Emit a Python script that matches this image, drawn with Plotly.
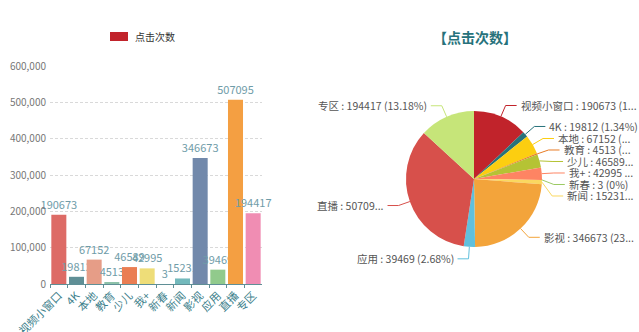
import math
import plotly.graph_objects as go

# ---------------- data ----------------
categories = ["视频小窗口", "4K", "本地", "教育", "少儿", "我+", "新春", "新闻", "影视", "应用", "直播", "专区"]
clicks = [190673, 19812, 67152, 4513, 46589, 42995, 3, 15231, 346673, 39469, 507095, 194417]
series_name = "点击次数"
y_tick_values = [0, 100000, 200000, 300000, 400000, 500000, 600000]

# ---------------- styles ----------------
W, H = 639, 332
FONT = "Microsoft YaHei, Noto Sans CJK SC, sans-serif"
bar_colors = ["#dd6b66", "#5f8f96", "#e69d87", "#8dc1a9", "#ea7e53", "#eedd78",
              "#73a373", "#73b9bc", "#7289ab", "#91ca8c", "#f49f42", "#f08db3"]
pie_colors = ["#C1232B", "#27727B", "#FCCE10", "#E87C25", "#B5C334", "#FE8463",
              "#9BCA63", "#FAD860", "#F3A43B", "#60C0DD", "#D7504B", "#C6E579"]


def px_x(v):
    return v / W


def px_y(v):
    return 1 - v / H


fig = go.Figure()

# ---------------- bar chart ----------------
fig.add_trace(go.Bar(
    x=categories, y=clicks,
    marker=dict(color=bar_colors, line=dict(width=0)),
    text=[str(v) for v in clicks], textposition="outside",
    textfont=dict(family=FONT, size=11, color="#6f9ca8"),
    constraintext="none", cliponaxis=False,
    showlegend=False, xaxis="x", yaxis="y",
))

# ---------------- pie chart ----------------
cx, cy, r = 474, 179, 68
fig.add_trace(go.Pie(
    labels=categories, values=clicks, sort=False, direction="clockwise", rotation=0,
    marker=dict(colors=pie_colors, line=dict(width=0)),
    textinfo="none", showlegend=False, automargin=False,
    domain=dict(x=[px_x(cx - r), px_x(cx + r)], y=[px_y(cy + r), px_y(cy - r)]),
))

# pie labels with leader lines (computed from the data)
total = sum(clicks)
F = 10          # width model
F_DRAW = 10.5   # drawn size
ELLIPSIS_W = 9.2
EM = {"0": .57, "1": .57, "2": .57, "3": .57, "4": .57, "5": .57, "6": .57, "7": .57, "8": .57, "9": .57,
      " ": .27, ":": .25, "(": .3, ")": .3, ".": .25, "%": .82, "+": .65, "K": .57}


def text_w(s):
    return sum(F * EM.get(ch, 1.0) for ch in s)


def fit(s, avail):
    if text_w(s) <= avail:
        return s
    while s and text_w(s) + ELLIPSIS_W > avail:
        s = s[:-1]
    return s + "..."


def pct_str(v):
    p = round(v / total * 100, 2)
    s = f"{p:.2f}".rstrip("0").rstrip(".")
    return s + "%"


L1, L2, GAP, SPACING = 12, 11, 3, 11.5
items = []
cum = 0
for name, v, col in zip(categories, clicks, pie_colors):
    th = 2 * math.pi * (cum + v / 2) / total
    cum += v
    dx, dy = math.sin(th), -math.cos(th)
    items.append(dict(name=name, v=v, col=col, dx=dx, dy=dy,
                      ex=cx + r * dx, ey=cy + r * dy,
                      y=cy + (r + L1) * dy, side=1 if dx >= 0 else -1))

for side in (1, -1):
    lst = sorted([it for it in items if it["side"] == side], key=lambda it: it["y"])
    for i in range(1, len(lst)):
        if lst[i]["y"] < lst[i - 1]["y"] + SPACING:
            lst[i]["y"] = lst[i - 1]["y"] + SPACING

annotations = []
shapes = []
for it in items:
    R1 = r + L1
    ddy = it["y"] - cy
    if abs(ddy) < R1:
        bx = cx + it["side"] * math.sqrt(R1 ** 2 - ddy ** 2)
    else:
        bx = cx + R1 * it["dx"]
    lx = bx + it["side"] * L2
    tx = bx + it["side"] * (L2 + GAP)
    full = f"{it['name']} : {it['v']} ({pct_str(it['v'])})"
    avail = (633 - tx) if it["side"] > 0 else (tx - 318)
    label = fit(full, avail)
    shapes.append(dict(type="path", xref="paper", yref="paper",
                       path=f"M {px_x(it['ex'])},{px_y(it['ey'])} L {px_x(bx)},{px_y(it['y'])} L {px_x(lx)},{px_y(it['y'])}",
                       line=dict(color=it["col"], width=1)))
    annotations.append(dict(xref="paper", yref="paper", x=px_x(tx), y=px_y(it["y"]),
                            text=label, showarrow=False, borderpad=0,
                            xanchor="left" if it["side"] > 0 else "right", yanchor="middle",
                            font=dict(family=FONT, size=F_DRAW, color="#555")))

# title of pie
annotations.append(dict(xref="paper", yref="paper", x=px_x(475), y=px_y(37),
                        text="<b>【点击次数】</b>", showarrow=False, xanchor="center", yanchor="middle",
                        font=dict(family=FONT, size=14, color="#27727B")))

# legend (left chart)
shapes.append(dict(type="rect", xref="paper", yref="paper",
                   x0=px_x(110), x1=px_x(128), y0=px_y(41), y1=px_y(32),
                   fillcolor="#C1232B", line=dict(width=0)))
annotations.append(dict(xref="paper", yref="paper", x=px_x(133), y=px_y(36.5),
                        text=series_name, showarrow=False, xanchor="left", yanchor="middle",
                        font=dict(family=FONT, size=10, color="#333")))

fig.update_layout(
    width=W, height=H, margin=dict(l=0, r=0, t=0, b=0, autoexpand=False),
    paper_bgcolor="white", plot_bgcolor="white",
    font=dict(family=FONT),
    bargap=0.15,
    xaxis=dict(domain=[px_x(50), px_x(262)], tickangle=-45, automargin=False,
               tickfont=dict(family=FONT, size=11, color="#3d7f8c"),
               showline=True, linecolor="#5f8f96", linewidth=1,
               ticks="outside", ticklen=3, tickcolor="#5f8f96", tickson="boundaries",
               showgrid=False, zeroline=False, fixedrange=True),
    yaxis=dict(domain=[px_y(284), px_y(66)], range=[0, 600000], automargin=False,
               tickvals=y_tick_values, tickformat=",d", ticklabelstandoff=3,
               tickfont=dict(family=FONT, size=10, color="#777"),
               showgrid=True, gridcolor="#d9d9d9", griddash="3px,2px", gridwidth=1,
               zeroline=False, showline=False, ticks="", fixedrange=True),
    shapes=shapes, annotations=annotations,
)

fig.write_html("out.html")
